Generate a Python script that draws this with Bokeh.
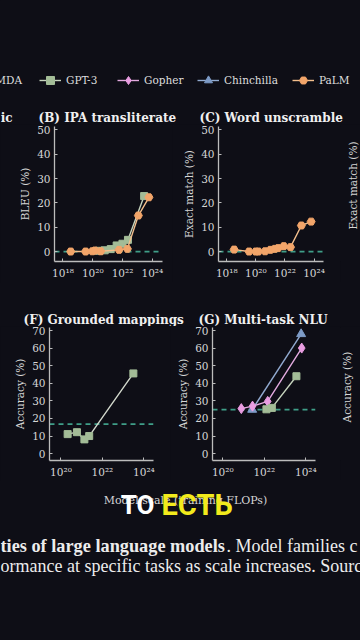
import math
from bokeh.plotting import figure
from bokeh.layouts import column, row
from bokeh.models import (Range1d, FixedTicker, CustomJSTickFormatter, Span,
                          Legend, LegendItem)
from bokeh.core.properties import value
from bokeh.embed import file_html
from bokeh.resources import INLINE

# ---------------- data ----------------
legend_names = ["LaMDA", "GPT-3", "Gopher", "Chinchilla", "PaLM"]

# (B) IPA transliterate  -- BLEU (%)
b_palm_flops = [3.3e18, 3.3e19, 9.3e19, 1.4e20, 3.4e20, 5.8e21, 2.1e22, 1.15e23, 5.9e23]
b_palm_score = [0.0, 0.0, 0.1, 0.4, 0.1, 0.7, 1.1, 14.8, 22.3]
b_gpt3_flops = [2.5e20, 6.3e20, 1.6e21, 4.0e21, 9.8e21, 2.3e22, 2.8e23]
b_gpt3_score = [0.3, 0.5, 1.0, 2.5, 3.2, 4.8, 22.8]
b_random = 0.0

# (C) Word unscramble -- Exact match (%)
c_palm_flops = [3.2e18, 3.4e19, 9.8e19, 1.5e20, 4.3e20, 1.0e21, 2.0e21, 3.4e21,
                8.3e21, 2.4e22, 1.35e23, 6.3e23]
c_palm_score = [0.8, 0.0, 0.0, 0.0, 0.1, 0.7, 1.1, 1.4, 2.2, 1.8, 10.7, 12.3]
c_random = 0.0

# (F) Grounded mappings -- Accuracy (%)
f_gpt3_flops = [2.1e20, 5.9e20, 1.35e21, 2.3e21, 3.1e23]
f_gpt3_score = [11.1, 12.2, 8.1, 10.0, 45.6]
f_random = 16.8

# (G) Multi-task NLU -- Accuracy (%)
g_chin_flops = [2.6e21, 5.9e23]
g_chin_score = [25.0, 68.0]
g_gopher_flops = [7.8e20, 2.7e21, 1.45e22, 6.3e23]
g_gopher_score = [25.6, 27.0, 29.7, 60.0]
g_gpt3_flops = [1.26e22, 2.3e22, 3.5e23]
g_gpt3_score = [25.2, 26.0, 44.0]
g_random = 25.0

x_ticks_top = [1e18, 1e20, 1e22, 1e24]
x_ticks_bottom = [1e20, 1e22, 1e24]
y_ticks_top = [0, 10, 20, 30, 40, 50]
y_ticks_bottom = [0, 10, 20, 30, 40, 50, 60, 70]

titles_top = ["ic", "(B) IPA transliterate", "(C) Word unscramble"]
titles_bottom = ["(F) Grounded mappings", "(G) Multi-task NLU"]
x_label = "Model scale (training FLOPs)"
caption_bold = "ties of large language models"
caption_rest1 = ". Model families c"
caption_line2 = "ormance at specific tasks as scale increases. Sourc"
overlay_white = "ТО"
overlay_yellow = "ЕСТЬ"

# ---------------- style ----------------
BG = "#0e0e16"
SERIF = "DejaVu Serif"
AXIS_C = "#bcbcbc"
TICK_C = "#d6d6d6"
TEXT_C = "#f0f0f0"
RAND_C = "#3f9e88"
GPT3_C, GPT3_L = "#a3bc97", "#c6d4be"
GOPH_C, GOPH_L = "#e99de1", "#e2aadf"
CHIN_C, CHIN_L = "#7d9bc7", "#92abd1"
PALM_C, PALM_L = "#f2a56a", "#f3bf8d"
LAMDA_C, LAMDA_L = "#7f8fb0", "#98a5c0"

SUP_JS = """
const sup = {"0":"\u2070","1":"\u00b9","2":"\u00b2","3":"\u00b3","4":"\u2074",
             "5":"\u2075","6":"\u2076","7":"\u2077","8":"\u2078","9":"\u2079","-":"\u207b"};
const e = Math.round(Math.log10(tick));
return "10" + String(e).split("").map(c => sup[c]).join("");
"""


def text_fig(w, h):
    p = figure(width=w, height=h, x_range=Range1d(0, w), y_range=Range1d(0, h),
               min_border=0, toolbar_location=None, output_backend="svg",
               x_axis_location=None, y_axis_location=None)
    p.background_fill_color = BG
    p.border_fill_color = BG
    p.outline_line_color = None
    p.grid.visible = False
    return p


def panel(w, h, bl, br, bt, bb, xr, yr, xticks, yticks, ylabel):
    p = figure(width=w, height=h, x_axis_type="log",
               x_range=Range1d(*xr), y_range=Range1d(*yr),
               min_border_left=bl, min_border_right=br,
               min_border_top=bt, min_border_bottom=bb,
               toolbar_location=None, output_backend="svg")
    p.background_fill_color = BG
    p.border_fill_color = BG
    p.outline_line_color = None
    p.xgrid.visible = False
    p.ygrid.visible = False
    xa, ya = p.xaxis[0], p.yaxis[0]
    xa.ticker = FixedTicker(ticks=xticks, minor_ticks=[])
    xa.formatter = CustomJSTickFormatter(code=SUP_JS)
    ya.ticker = FixedTicker(ticks=yticks, minor_ticks=[])
    for ax in (xa, ya):
        ax.axis_line_color = AXIS_C
        ax.axis_line_width = 1.3
        ax.major_tick_line_color = AXIS_C
        ax.major_tick_in = 3
        ax.major_tick_out = 0
        ax.minor_tick_line_color = None
        ax.major_label_text_font = SERIF
        ax.major_label_text_font_size = "10.5px"
        ax.major_label_text_color = TICK_C
    ya.major_label_standoff = 4
    xa.major_label_standoff = 5
    ya.axis_label = ylabel
    ya.axis_label_text_font = SERIF
    ya.axis_label_text_font_style = "normal"
    ya.axis_label_text_font_size = "10.5px"
    ya.axis_label_text_color = TICK_C
    ya.axis_label_standoff = 3
    return p


def add_random(p, level):
    p.add_layout(Span(location=level, dimension="width", line_color=RAND_C,
                      line_dash="5 4", line_width=1.8, level="underlay"))


def series(p, xs, ys, line_c, fill_c, marker, size):
    rl = p.line(xs, ys, line_color=line_c, line_width=1.4)
    rs = p.scatter(xs, ys, marker=marker, size=size, fill_color=fill_c, line_color=fill_c)
    return rl, rs


# ---------------- header: legend + top titles ----------------
W = 360
hdr = text_fig(W, 124)
# legend samples (their data lie outside the header's ranges, only the legend shows)
leg_style = [
    (legend_names[0], LAMDA_L, LAMDA_C, "circle", -45, c_palm_flops, c_palm_score),
    (legend_names[1], GPT3_L, GPT3_C, "square", 39, b_gpt3_flops, b_gpt3_score),
    (legend_names[2], GOPH_L, GOPH_C, "diamond", 117, g_gopher_flops, g_gopher_score),
    (legend_names[3], CHIN_L, CHIN_C, "triangle", 197, g_chin_flops, g_chin_score),
    (legend_names[4], PALM_L, PALM_C, "hex", 292, b_palm_flops, b_palm_score),
]
for name, lc, mc, mk, xloc, xs, ys in leg_style:
    rl, rs = series(hdr, xs, ys, lc, mc, mk, 8)
    leg = Legend(items=[LegendItem(label=name, renderers=[rl, rs])],
                 location=(xloc, 34), orientation="horizontal",
                 padding=0, margin=0, glyph_width=22, glyph_height=20,
                 label_standoff=5, label_text_font=SERIF,
                 label_text_font_size="10.5px", label_text_color="#dedede",
                 border_line_color=None, background_fill_alpha=0)
    hdr.add_layout(leg)

hdr.text(x=[12], y=[7], text=[titles_top[0]], text_align="right", text_baseline="alphabetic",
         text_font=value(SERIF), text_font_style="bold", text_font_size="12px",
         text_color=TEXT_C)
hdr.text(x=[38, 199], y=[7, 7], text=titles_top[1:], text_align="left",
         text_baseline="alphabetic", text_font=value(SERIF), text_font_style="bold",
         text_font_size="12px", text_color=TEXT_C)

# ---------------- row 1 ----------------
pB = panel(172, 158, 54, 10, 2, 21, (2.69e17, 4.79e24), (-4.1, 51.4),
           x_ticks_top, y_ticks_top, "BLEU (%)")
add_random(pB, b_random)
series(pB, b_gpt3_flops, b_gpt3_score, GPT3_L, GPT3_C, "square", 7)
series(pB, b_palm_flops, b_palm_score, PALM_L, PALM_C, "hex", 8)

pC = panel(168, 158, 46, 17, 2, 21, (2.69e17, 4.47e24), (-4.1, 51.4),
           x_ticks_top, y_ticks_top, "Exact match (%)")
add_random(pC, c_random)
series(pC, c_palm_flops, c_palm_score, PALM_L, PALM_C, "hex", 8)

r1 = text_fig(20, 158)
r1.text(x=[12], y=[89], text=["Exact match (%)"], angle=math.pi / 2,
        text_align="center", text_baseline="middle", text_font=value(SERIF),
        text_font_size="10.5px", text_color=TICK_C)

# ---------------- middle: bottom titles ----------------
mid = text_fig(W, 44)
mid.text(x=[23, 198], y=[6.5, 6.5], text=titles_bottom, text_align="left",
         text_baseline="alphabetic", text_font=value(SERIF), text_font_style="bold",
         text_font_size="12px", text_color=TEXT_C)

# ---------------- row 2 ----------------
pF = panel(170, 154, 49, 17, 1, 18, (2.8e19, 2.9e24), (-3.9, 71.7),
           x_ticks_bottom, y_ticks_bottom, "Accuracy (%)")
add_random(pF, f_random)
series(pF, f_gpt3_flops, f_gpt3_score, "#d2d8cc", GPT3_C, "square", 7)

pG = panel(170, 154, 42, 25, 1, 18, (3.2e19, 2.9e24), (-3.9, 71.7),
           x_ticks_bottom, y_ticks_bottom, "Accuracy (%)")
add_random(pG, g_random)
series(pG, g_chin_flops, g_chin_score, CHIN_L, CHIN_C, "triangle", 9)
series(pG, g_gopher_flops, g_gopher_score, GOPH_L, GOPH_C, "diamond", 10)
series(pG, g_gpt3_flops, g_gpt3_score, GPT3_L, GPT3_C, "square", 7)

r2 = text_fig(20, 154)
r2.text(x=[6], y=[85], text=["Accuracy (%)"], angle=math.pi / 2,
        text_align="center", text_baseline="middle", text_font=value(SERIF),
        text_font_size="10.5px", text_color=TICK_C)

# ---------------- footer ----------------
ftr = text_fig(W, 152)
ftr.text(x=[185], y=[132], text=[x_label], text_align="center", text_baseline="middle",
         text_font=value(SERIF), text_font_size="11px", text_color=TICK_C)
ftr.text(x=[154], y=[128], text=[overlay_white], text_align="right", text_baseline="middle",
         text_font=value("Roboto"), text_font_style="bold", text_font_size="26px",
         text_color="#ffffff")
ftr.text(x=[161], y=[128], text=[overlay_yellow], text_align="left", text_baseline="middle",
         text_font=value("Roboto"), text_font_style="bold", text_font_size="29px",
         text_color="#f2ea1c")
ftr.text(x=[0], y=[87], text=[caption_bold], text_align="left", text_baseline="alphabetic",
         text_font=value("Liberation Serif"), text_font_style="bold", text_font_size="18.3px",
         text_color="#ececec")
ftr.text(x=[226], y=[87], text=[caption_rest1], text_align="left", text_baseline="alphabetic",
         text_font=value("Liberation Serif"), text_font_size="18px", text_color="#ececec")
ftr.text(x=[0], y=[67], text=[caption_line2], text_align="left", text_baseline="alphabetic",
         text_font=value("Liberation Serif"), text_font_size="18px", text_color="#ececec")

layout = column(hdr, row(pB, pC, r1), mid, row(pF, pG, r2), ftr)

html = file_html(layout, INLINE)
html = html.replace("<body>", '<body style="background-color:#0e0e16;">')
open("out.html", "w").write(html)
